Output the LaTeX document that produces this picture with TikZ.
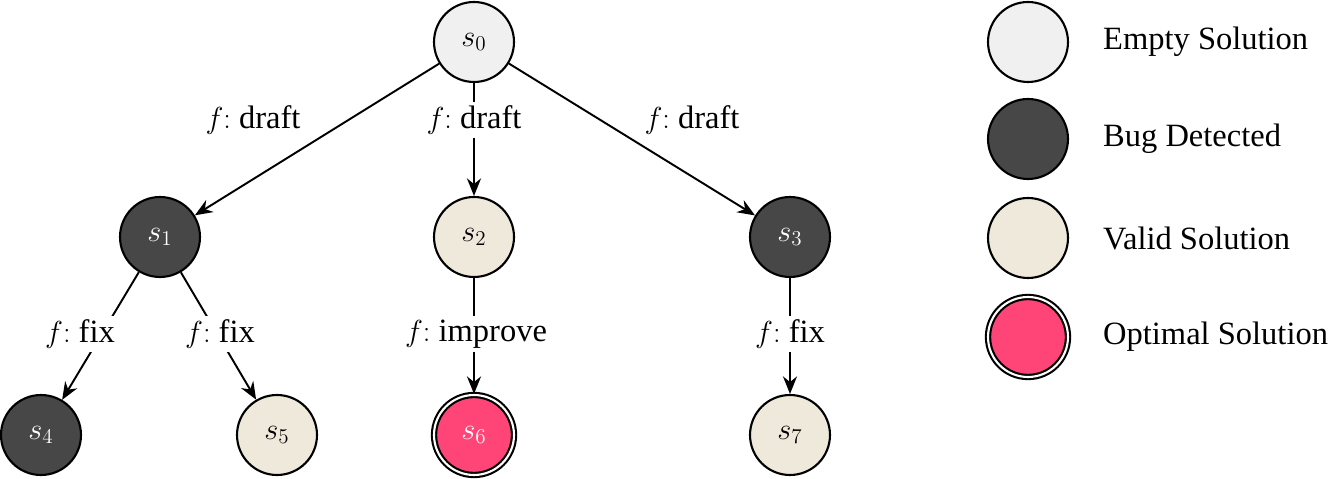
\documentclass[tikz,border=0pt]{standalone}
\usepackage{fontspec}
\setmainfont{Liberation Serif}
\usetikzlibrary{arrows.meta}
\definecolor{emptyc}{HTML}{F0F0F0}
\definecolor{bugc}{HTML}{474747}
\definecolor{validc}{HTML}{EFE9DC}
\definecolor{optc}{HTML}{FF4477}
\begin{document}
\fontsize{18.5}{22}\selectfont
\begin{tikzpicture}[x=0.02cm,y=-0.02cm,
  st/.style={draw, circle, line width=1.2pt, minimum size=1.6cm, inner sep=0pt},
  empty/.style={st, fill=emptyc},
  bug/.style={st, fill=bugc, text=white},
  valid/.style={st, fill=validc},
  opt/.style={st, fill=optc, text=white, double, double distance=1.2pt},
  arr/.style={line width=1.1pt, -{Stealth[length=10pt,width=8pt]}},
  lbl/.style={fill=white, inner sep=2pt}]
\useasboundingbox (0,0) rectangle (1339,479);

\node[empty] (s0) at (474,42) {$s_0$};
\node[bug] (s1) at (160,237) {$s_1$};
\node[valid] (s2) at (474,237) {$s_2$};
\node[bug] (s3) at (790,237) {$s_3$};
\node[bug] (s4) at (41,435) {$s_4$};
\node[valid] (s5) at (277,435) {$s_5$};
\node[opt] (s6) at (474,435) {$s_6$};
\node[valid] (s7) at (790,435) {$s_7$};

\draw[arr] (s0) -- (s1);
\draw[arr] (s0) -- (s2);
\draw[arr] (s0) -- (s3);
\draw[arr] (s1) -- (s4);
\draw[arr] (s1) -- (s5);
\draw[arr] (s2) -- (s6);
\draw[arr] (s3) -- (s7);

\node[lbl] (l1) at (253,120) {$f{:}$ draft};
\node[lbl] (l2) at (474,120) {$f{:}$ draft};
\node[lbl] (l3) at (692,120) {$f{:}$ draft};
\node[lbl] (l4) at (80,334) {$f{:}$ fix};
\node[lbl] (l5) at (220,334) {$f{:}$ fix};
\node[lbl] (l6) at (476,334) {$f{:}$ improve};
\node[lbl] (l7) at (790,334) {$f{:}$ fix};

% legend
\node[empty] (k1) at (1028,42) {};
\node[bug] (k2) at (1028,139) {};
\node[valid] (k3) at (1028,238) {};
\node[opt] (k4) at (1028,337) {};
\node[anchor=west] at (1092,42) {Empty Solution};
\node[anchor=west] at (1092,139) {Bug Detected};
\node[anchor=west] at (1092,238) {Valid Solution};
\node[anchor=west] at (1092,337) {Optimal Solution};
\end{tikzpicture}
\end{document}
